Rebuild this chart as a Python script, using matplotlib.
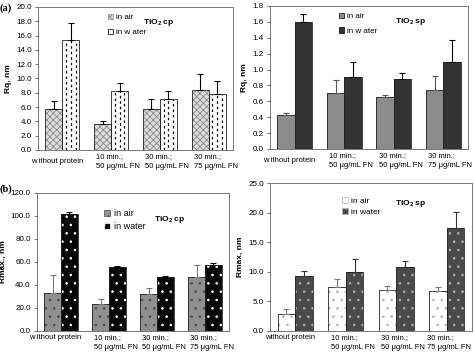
import numpy as np
import matplotlib
matplotlib.use("Agg")
import matplotlib.pyplot as plt
from matplotlib.patches import Patch

plt.rcParams['font.family'] = ['Liberation Sans', 'DejaVu Sans']
plt.rcParams['mathtext.default'] = 'regular'
plt.rcParams['hatch.linewidth'] = 0.6

groups = ["w ithout protein", "10 min.;\n50 \u03bcg/mL FN", "30 min.;\n50 \u03bcg/mL FN", "30 min.;\n75 \u03bcg/mL FN"]
groups_d = ["without protein", "10 min.;\n50 \u03bcg/mL FN", "30 min.;\n50 \u03bcg/mL FN", "30 min.;\n75 \u03bcg/mL FN"]

# (a) Rq, TiO2 cp
rq_cp_air = [5.7, 3.6, 5.7, 8.4]
rq_cp_air_err = [1.2, 0.4, 1.5, 2.2]
rq_cp_water = [15.4, 8.2, 7.2, 7.8]
rq_cp_water_err = [2.3, 1.2, 1.0, 1.8]

# (a) Rq, TiO2 sp
rq_sp_air = [0.43, 0.70, 0.66, 0.74]
rq_sp_air_err = [0.02, 0.17, 0.02, 0.18]
rq_sp_water = [1.60, 0.90, 0.88, 1.10]
rq_sp_water_err = [0.10, 0.19, 0.08, 0.27]

# (b) Rmax, TiO2 cp
rmax_cp_air = [33.0, 23.5, 32.5, 46.5]
rmax_cp_air_err = [16.0, 4.0, 4.5, 10.5]
rmax_cp_water = [101.5, 55.5, 46.5, 57.5]
rmax_cp_water_err = [2.0, 1.0, 1.0, 1.5]

# (b) Rmax, TiO2 sp
rmax_sp_air = [2.9, 7.4, 7.0, 6.7]
rmax_sp_air_err = [0.8, 1.3, 0.6, 0.8]
rmax_sp_water = [9.3, 10.0, 10.8, 17.4]
rmax_sp_water_err = [0.9, 2.2, 1.0, 2.7]

W = 0.35
x = np.arange(4) + 0.5


def bars(ax, xs, vals, face, hatch=None, hcolor='black', z=2):
    ax.bar(xs, vals, W, color=face, edgecolor=hcolor, linewidth=0, hatch=hatch, zorder=z)
    ax.bar(xs, vals, W, fill=False, edgecolor='#222222', linewidth=0.6, zorder=z + 2)
    return Patch(facecolor=face, edgecolor=hcolor, hatch=hatch, linewidth=0.5)


def dashes(ax, xs, vals):
    for xc, h in zip(xs, vals):
        for k, f in enumerate([-0.28, 0.0, 0.28]):
            ls = (0, (2.0, 2.4)) if k % 2 == 0 else (2.2, (2.0, 2.4))
            ax.vlines(xc + f * W, 0, h, colors='black', linewidth=0.9, linestyles=[ls], zorder=3)


def err(ax, xs, vals, e, col='black'):
    ax.errorbar(xs, vals, yerr=[np.zeros(len(e)), e], fmt='none', ecolor=col,
                elinewidth=0.8, capsize=2.2, capthick=0.8, zorder=5)


def frame(ax, ylim, step, labels, label, dy_first=-4, dx_last=5):
    ticks = np.arange(ylim[0], ylim[1] + step / 2, step)
    ax.set_xlim(0, 4)
    ax.set_ylim(*ylim)
    ax.set_yticks(ticks)
    ax.set_yticklabels(['%.1f' % v for v in ticks])
    ax.tick_params(axis='y', labelsize=5.8, length=2.5, width=0.6, pad=2, color='#555555')
    ax.set_xticks([])
    for s in ax.spines.values():
        s.set_color('#777777')
        s.set_linewidth(0.7)
    for i, t in enumerate(labels):
        dx = -4 if i == 0 else (dx_last if i == 3 else 5)
        dy = dy_first if i == 0 else -2.5
        ax.annotate(t, xy=(x[i], 0), xycoords=('data', 'axes fraction'), xytext=(dx, dy),
                    textcoords='offset points', ha='center', va='top', fontsize=5.5,
                    multialignment='left', linespacing=1.6)
    ax.set_ylabel(label, fontsize=6, fontweight='bold', labelpad=3)


fig = plt.figure(figsize=(4.74, 3.54), dpi=100)
axA = fig.add_axes([0.0802, 0.5763, 0.4114, 0.404])
axB = fig.add_axes([0.5696, 0.5791, 0.4177, 0.404])
axC = fig.add_axes([0.078, 0.065, 0.405, 0.39])
axD = fig.add_axes([0.5696, 0.065, 0.426, 0.418])

legkw = dict(loc='upper left', frameon=False, handlelength=0.7, handleheight=0.7, handletextpad=0.4,
             borderaxespad=0)

# panel A
h1 = bars(axA, x - W / 2, rq_cp_air, '#dcdcdc', 'xxxxx', '#8a8a8a')
bars(axA, x + W / 2, rq_cp_water, 'white')
dashes(axA, x + W / 2, rq_cp_water)
h2 = Patch(facecolor='white', edgecolor='black', hatch='|||', linewidth=0.5)
err(axA, x - W / 2, rq_cp_air, rq_cp_air_err)
err(axA, x + W / 2, rq_cp_water, rq_cp_water_err)
frame(axA, (0, 20), 2, groups, 'Rq, nm', dy_first=-5.5)
axA.legend([h1, h2], ['in air', 'in w ater'], bbox_to_anchor=(0.34, 0.975), fontsize=5.8,
           labelspacing=0.9, **legkw)
axA.text(0.54, 0.88, 'TiO$_2$ cp', transform=axA.transAxes, fontsize=6, fontweight='bold')

# panel B
h1 = bars(axB, x - W / 2, rq_sp_air, '#8c8c8c')
h2 = bars(axB, x + W / 2, rq_sp_water, '#333333')
err(axB, x - W / 2, rq_sp_air, rq_sp_air_err, '#555555')
err(axB, x + W / 2, rq_sp_water, rq_sp_water_err)
frame(axB, (0, 1.8), 0.2, groups, 'Rq, nm', dy_first=-5.5)
axB.legend([h1, h2], ['in air', 'in w ater'], bbox_to_anchor=(0.33, 0.975), fontsize=5.8,
           labelspacing=0.8, **legkw)
axB.text(0.63, 0.88, 'TiO$_2$ sp', transform=axB.transAxes, fontsize=6, fontweight='bold')

# panel C
h1 = bars(axC, x - W / 2, rmax_cp_air, '#909090', '..', '#4a4a4a')
h2 = bars(axC, x + W / 2, rmax_cp_water, '#080808', '..', 'white')
err(axC, x - W / 2, rmax_cp_air, rmax_cp_air_err, '#777777')
err(axC, x + W / 2, rmax_cp_water, rmax_cp_water_err)
frame(axC, (0, 120), 20, groups, 'Rmax., nm', dy_first=-2.5)
axC.legend([h1, h2], ['in air', 'in water'], bbox_to_anchor=(0.33, 0.91), fontsize=6.5,
           labelspacing=0.5, **legkw)
axC.text(0.61, 0.8, 'TiO$_2$ cp', transform=axC.transAxes, fontsize=6, fontweight='bold')

# panel D
h1 = bars(axD, x - W / 2, rmax_sp_air, 'white', '..', '#b0b0b0')
h2 = bars(axD, x + W / 2, rmax_sp_water, '#4a4a4a', '..', '#b0b0b0')
err(axD, x - W / 2, rmax_sp_air, rmax_sp_air_err, '#777777')
err(axD, x + W / 2, rmax_sp_water, rmax_sp_water_err, '#333333')
frame(axD, (0, 25), 5, groups_d, 'Rmax, nm', dy_first=-2.5, dx_last=2)
axD.legend([h1, h2], ['in air', 'in water'], bbox_to_anchor=(0.34, 0.93), fontsize=6,
           labelspacing=0.4, **legkw)
axD.text(0.62, 0.85, 'TiO$_2$ sp', transform=axD.transAxes, fontsize=6, fontweight='bold')

fig.text(0.0, 0.99, '(a)', fontsize=7.5, fontweight='bold', family='Liberation Serif', va='top')
fig.text(0.0, 0.478, '(b)', fontsize=7.5, fontweight='bold', family='Liberation Serif', va='top')

fig.savefig('out.png', dpi=100)
